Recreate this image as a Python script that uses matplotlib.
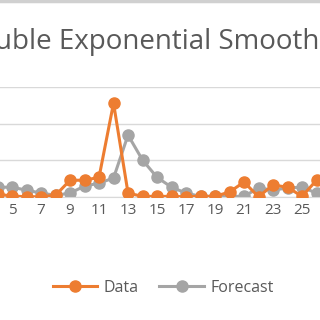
import matplotlib
matplotlib.use("Agg")
import matplotlib.pyplot as plt
from matplotlib.lines import Line2D

# category index (Excel category axis, 1-based)
periods = list(range(4, 28))
data = [8, 3, 1, 1, 5, 46, 46, 54, 256, 11, 2, 2, 2, 1, 2, 2, 14, 41, 1, 33, 27, 2, 46, 19]
forecast = [27, 27, 19, 11, 5, 11, 30, 38, 52, 169, 101, 54, 27, 11, 2, 2, 2, 2, 25, 19, 25, 27, 11, 20]
tick_labels = [str(i) for i in range(1, 31, 2)]

ORANGE = "#ED7D31"
GRAY = "#A5A5A5"
TEXT = "#595959"

plt.rcParams["font.family"] = ["Open Sans", "DejaVu Sans"]

fig = plt.figure(figsize=(3.2, 3.2), dpi=100)
ax = fig.add_axes([0.0, 0.384, 1.0, 0.344])

ax.plot(periods, data, color=ORANGE, lw=2.2, marker="o", ms=8, label="Data", zorder=3)
ax.plot(periods, forecast, color=GRAY, lw=2.2, marker="o", ms=8, label="Forecast", zorder=2)

ax.set_xticks(range(1, 31, 2))
ax.set_xticklabels(tick_labels, color=TEXT, fontsize=11)
ax.tick_params(axis="x", length=0, pad=4)
ax.set_xlim(4.17, 26.24)
ax.set_ylim(0, 300)
ax.set_yticks([0, 100, 200, 300])
ax.yaxis.grid(True, color="#D9D9D9", lw=1)
ax.set_axisbelow(True)
ax.tick_params(axis="y", left=False, labelleft=False)
for s in ["top", "left", "right"]:
    ax.spines[s].set_visible(False)
ax.spines["bottom"].set_color("#D9D9D9")

# the chart is cropped in the reference, so the title runs past both edges
fig.text(0.495, 0.869, "Double Exponential Smoothing", ha="center", va="center",
         fontsize=20, color=TEXT)

fig.legend(loc="center", bbox_to_anchor=(0.51, 0.1), ncol=2, frameon=False,
           fontsize=11.5, labelcolor=TEXT, handlelength=2.8, columnspacing=1.3,
           handletextpad=0.4)

fig.add_artist(Line2D([0, 1], [0.996, 0.996], transform=fig.transFigure,
                      color="#D0D0D0", lw=2.5))

fig.savefig("out.png", dpi=100)
